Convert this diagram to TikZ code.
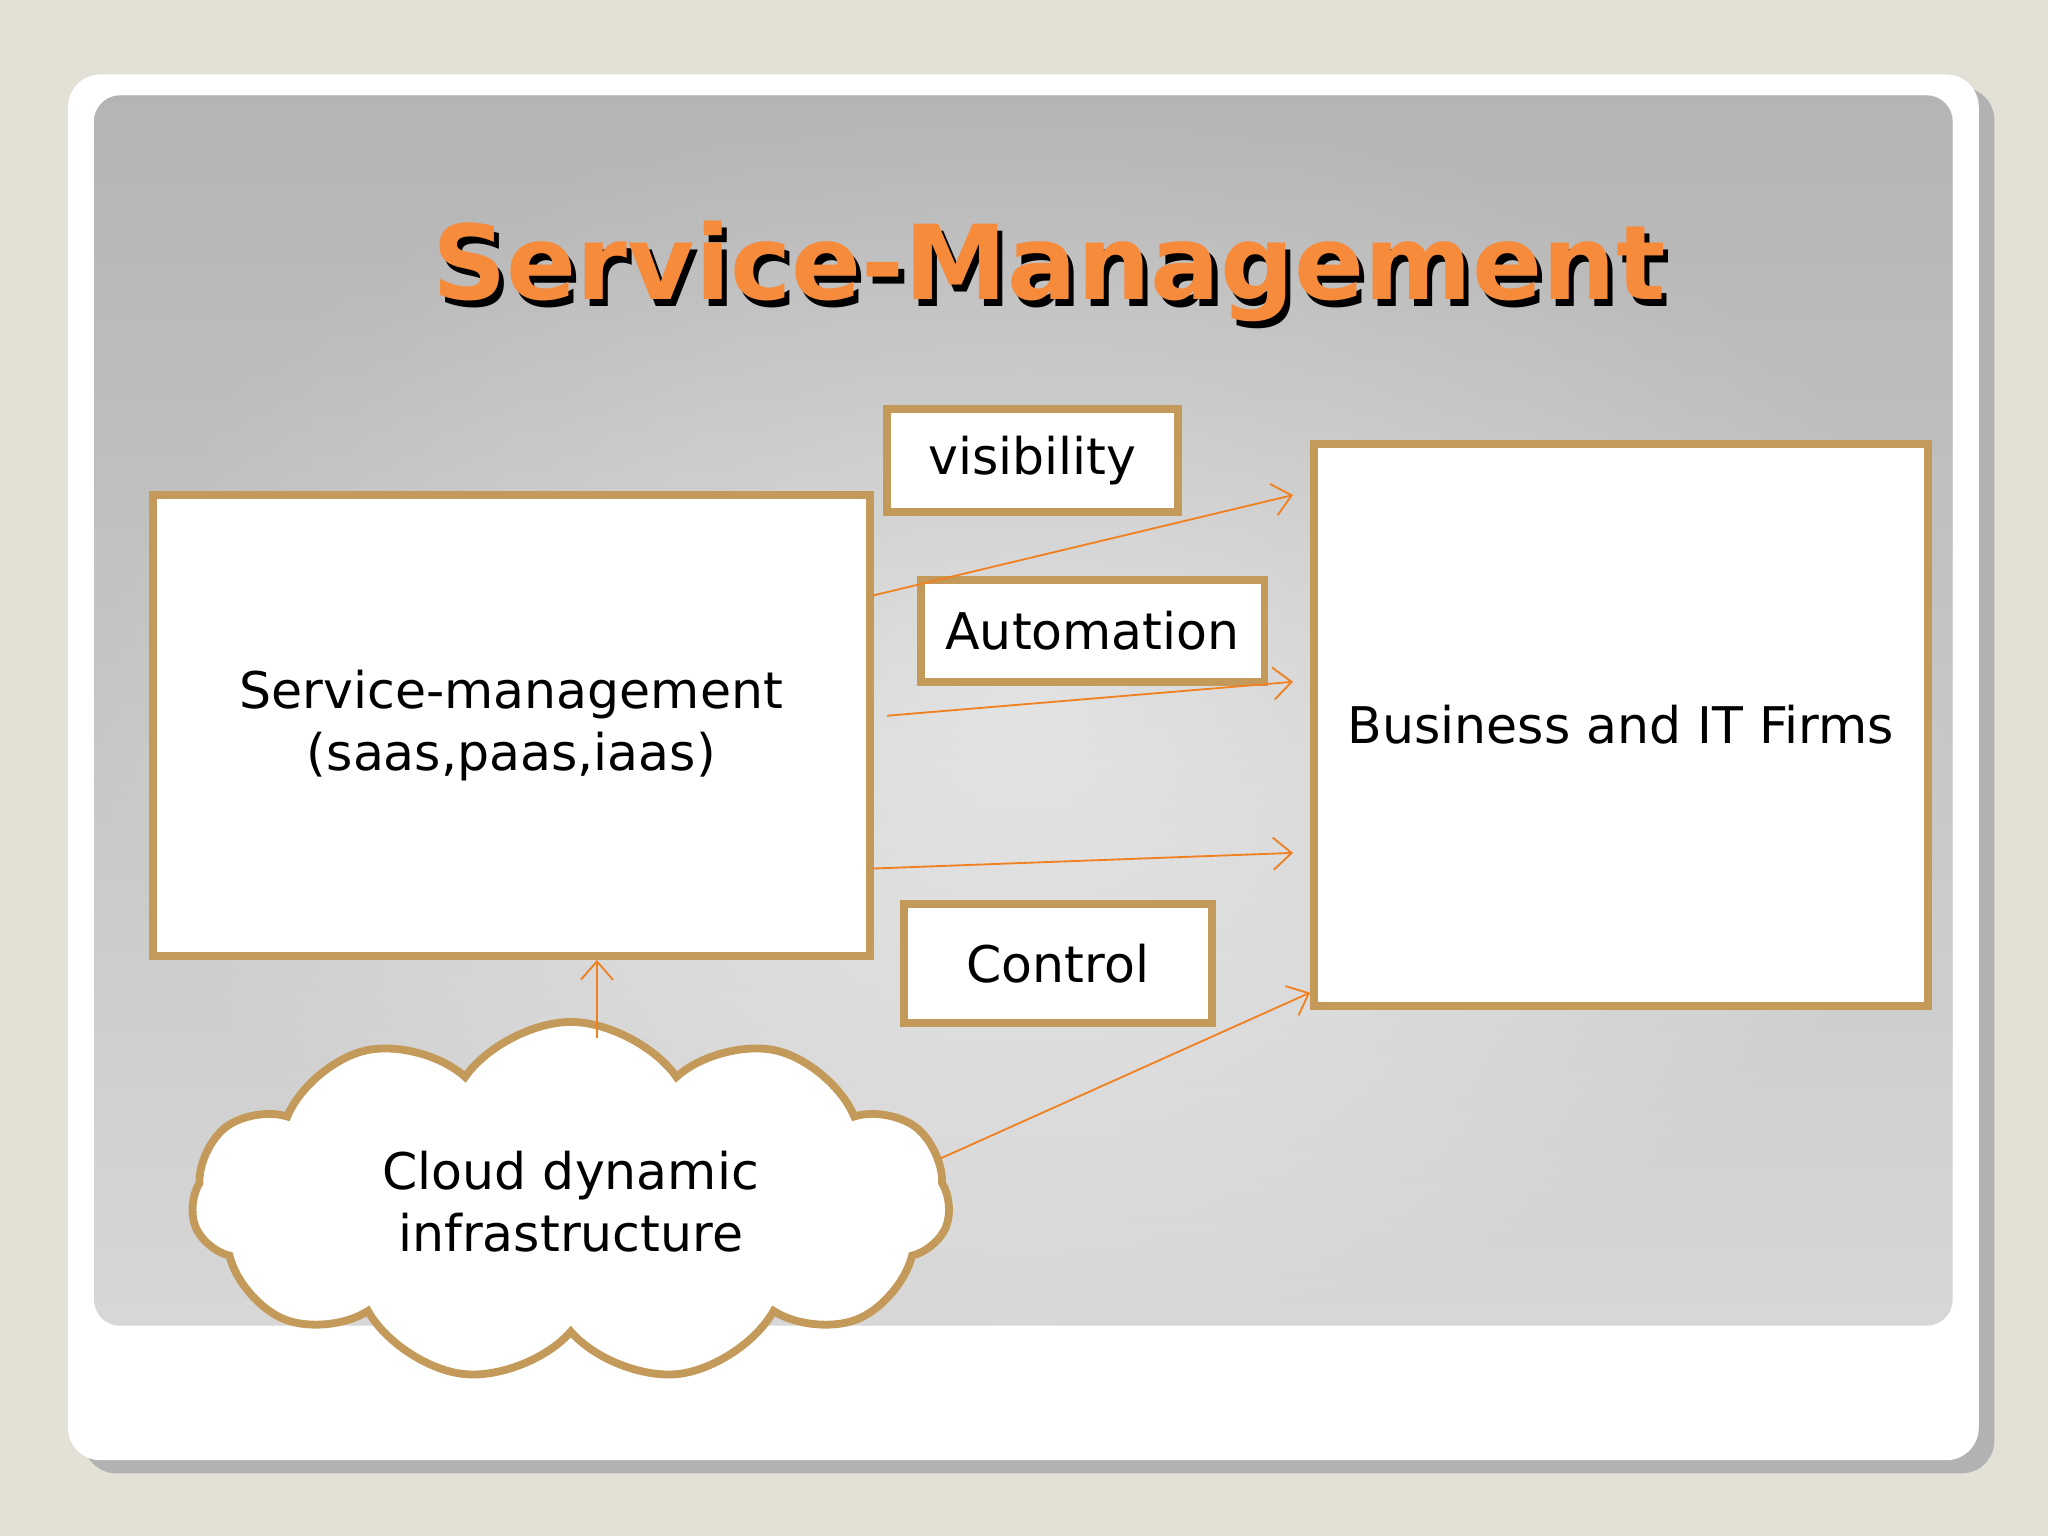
\documentclass[tikz,border=0pt]{standalone}
\usepackage{fontspec}
\setmainfont{DejaVu Sans}
\usetikzlibrary{shapes.symbols,arrows.meta,shadows}
\definecolor{bg}{HTML}{E3E0D5}
\definecolor{tan}{HTML}{C49A5A}
\definecolor{org}{HTML}{F68B3C}
\definecolor{arr}{HTML}{F08020}
\tikzset{
 box/.style={draw=tan,line width=1.7pt,fill=white,inner sep=0pt},
 lab/.style={font=\fontsize{11pt}{13.5pt}\selectfont,align=center},
 conn/.style={draw=arr,line width=0.4pt,-{Straight Barb[length=4pt,width=7pt]}}
}
\begin{document}
\begin{tikzpicture}[x=0.01cm,y=-0.01cm]
\useasboundingbox (0,0) rectangle (1568,1176);
\fill[bg] (0,0) rectangle (1568,1176);
\fill[gray!60,rounded corners=0.25cm] (64,67) rectangle (1527,1128);
\fill[white,rounded corners=0.25cm] (52,57) rectangle (1515,1118);
\shade[top color=gray!65,bottom color=gray!15,rounded corners=0.2cm] (72,73) rectangle (1495,1015);
\shade[inner color=white,outer color=gray!50,opacity=0.45,rounded corners=0.2cm] (72,73) rectangle (1495,1015);
\node[text=black,font=\fontsize{22.5pt}{27pt}\selectfont\bfseries] at (807,213) {Service-Management};
\node[text=org,font=\fontsize{22.5pt}{27pt}\selectfont\bfseries] (title) at (803,208) {Service-Management};
\node[box,minimum width=5.49cm,minimum height=3.53cm,lab] (L) at (391.5,555.5) {Service-management\\(saas,paas,iaas)};
\node[box,minimum width=2.23cm,minimum height=0.79cm,lab] (vis) at (790.5,352.5) {visibility};
\node[box,minimum width=2.63cm,minimum height=0.78cm,lab] (aut) at (836.5,483) {Automation};
\node[box,minimum width=2.36cm,minimum height=0.91cm,lab] (ctl) at (810,737.5) {Control};
\node[box,minimum width=4.70cm,minimum height=4.30cm,lab] (R) at (1241,555) {Business and IT Firms};
\node[cloud,cloud puffs=11,cloud puff arc=110,aspect=2.1,draw=tan,line width=1.7pt,fill=white,minimum width=5.8cm,minimum height=2.75cm,lab,inner sep=0pt] (C) at (437,920) {Cloud dynamic\\infrastructure};
\coordinate (a1) at (668,456); \coordinate (b1) at (990,379);
\coordinate (a2) at (679,548); \coordinate (b2) at (990,522);
\coordinate (a3) at (668,665); \coordinate (b3) at (990,653);
\coordinate (a4) at (720,887); \coordinate (b4) at (1003,760);
\coordinate (a5) at (457,795); \coordinate (b5) at (457,735);
\draw[conn] (a1) -- (b1);
\draw[conn] (a2) -- (b2);
\draw[conn] (a3) -- (b3);
\draw[conn] (a4) -- (b4);
\draw[conn] (a5) -- (b5);
\end{tikzpicture}
\end{document}
